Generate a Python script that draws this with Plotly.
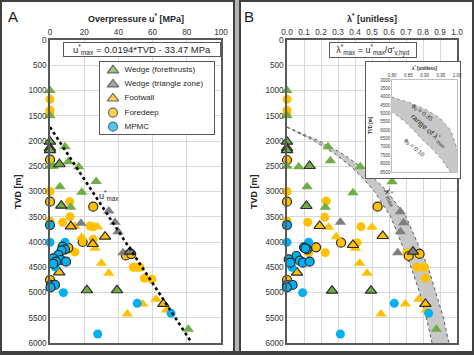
import plotly.graph_objects as go

W, H = 474, 355
def px(x): return x / W
def py(y): return 1 - y / H

FONT = "Arial, Liberation Sans, sans-serif"

# ---------------- DATA ----------------
# Panel A : overpressure u* [MPa] vs TVD [m]   (_o = points drawn with dark outline)
A_fore_u     = [0, 0, 8.8, 0, 2.0, 10.7, 16.8, 27.0, 5.8, 18.6, 12.1, 80.9]
A_fore_tvd   = [1000, 1500, 2112, 2500, 2500, 2410, 2510, 2800, 2904, 3015, 3310, 5729]
A_fore_o_u   = [0, 0, 0, 5.5, 6.6, 21.6, 39.2]
A_fore_o_tvd = [2013, 2140, 2180, 2460, 3280, 4955, 4955]
A_tz_u       = [34.4, 38.0, 18.1, 39.8, 42.7]
A_tz_tvd     = [3385, 3610, 3630, 3795, 4215]
A_tz_o_u     = [46.8]
A_tz_o_tvd   = [4191]
A_foot_u     = [14.6, 27.8, 18.5, 26.3, 30.0, 34.4, 54.2, 62.0, 68.2, 45.2]
A_foot_tvd   = [3690, 3705, 3905, 4125, 4422, 4620, 5227, 5135, 5346, 5425]
A_foot_o_u   = [12.2, 32.2, 25.0, 5.4, 66.3]
A_foot_o_tvd = [3690, 3895, 4040, 4600, 5227]
A_fd_u       = [0, 0, 0, 0, 11.5, 11.7, 0, 7.4, 23.4, 25.3, 25.3, 9.8, 14.6, 48.7, 50.7, 52.6, 55.2, 59.5]
A_fd_tvd     = [1175, 1390, 1450, 3000, 3201, 3498, 3590, 3610, 3683, 3700, 3947, 4158, 4200, 4501, 4501, 4501, 4718, 4738]
A_fd_o_u     = [0, 0, 25.3, 19.1, 10.7, 44.4, 47.5, 0]
A_fd_o_tvd   = [2370, 3201, 3300, 4000, 4115, 4265, 4240, 4752]
A_mp_u       = [0, 8.8, 2.9, 7.8, 51.0, 70.8, 27.9]
A_mp_tvd     = [4005, 4005, 4490, 5003, 5214, 5412, 5822]
A_mp_o_u     = [0, 7.4, 8.8, 6.8, 4.9, 1.9, 6.4, 9.4, 3.5, 1.9, 0.5, 2.9, 0.3]
A_mp_o_tvd   = [3665, 4093, 4145, 4165, 4257, 4323, 4356, 4389, 4389, 4430, 4850, 4850, 4897]
# u*max line (two end points)
umax_u   = [0, 82.5]
umax_tvd = [1725, 5975]

# Panel B : lambda* [unitless] vs TVD [m]
B_fore_l     = [0, 0, 0.241, 0, 0.069, 0.255, 0.431, 0.618, 0.118, 0.388, 0.225, 0.878]
B_fore_tvd   = [1000, 1500, 2112, 2500, 2508, 2390, 2508, 2805, 2904, 3023, 3313, 5729]
B_fore_o_l   = [0, 0, 0, 0.133, 0.114, 0.265, 0.494]
B_fore_o_tvd = [2013, 2140, 2180, 2495, 3287, 4963, 4963]
B_tz_l       = [0.667, 0.686, 0.314, 0.667, 0.651]
B_tz_tvd     = [3400, 3617, 3610, 3795, 4211]
B_tz_o_l     = [0.741]
B_tz_o_tvd   = [4191]
B_foot_l     = [0.245, 0.50, 0.29, 0.402, 0.427, 0.471, 0.696, 0.775, 0.82, 0.553]
B_foot_tvd   = [3709, 3709, 3894, 4125, 4422, 4620, 5227, 5135, 5346, 5425]
B_foot_o_l   = [0.192, 0.563, 0.388, 0.059, 0.814]
B_foot_o_tvd = [3683, 3881, 4059, 4607, 5227]
B_fd_l       = [0, 0, 0, 0, 0.231, 0.222, 0, 0.122, 0.435, 0.412, 0.127, 0.225, 0.706, 0.765, 0.808, 0.814]
B_fd_tvd     = [1175, 1390, 1450, 3000, 3188, 3511, 3590, 3610, 3696, 4013, 4211, 4211, 4211, 4501, 4501, 4718]
B_fd_o_l     = [0, 0, 0.533, 0.318, 0.171, 0.716, 0.78, 0]
B_fd_o_tvd   = [2376, 3201, 3300, 4013, 4105, 4277, 4237, 4752]
B_mp_l       = [0, 0.127, 0.029, 0.092, 0.631, 0.833, 0.314]
B_mp_tvd     = [4005, 4005, 4501, 5003, 5214, 5412, 5822]
B_mp_o_l     = [0, 0.10, 0.118, 0.108, 0.055, 0.01, 0.075, 0.02, 0.094, 0.133, 0, 0.033, 0]
B_mp_o_tvd   = [3665, 4105, 4145, 4125, 4277, 4343, 4369, 4409, 4409, 4389, 4851, 4851, 4897]

# range of lambda*max (grey band) in panel B
band_tvd = [1725, 1800, 2000, 2250, 2500, 2750, 3000, 3500, 4000, 4500, 5000, 5500, 6000]
band_lo  = [0, 0.045, 0.16, 0.28, 0.375, 0.45, 0.515, 0.61, 0.67, 0.73, 0.78, 0.82, 0.853]
band_hi  = [0, 0.055, 0.19, 0.325, 0.43, 0.515, 0.59, 0.70, 0.765, 0.83, 0.875, 0.92, 0.953]

# inset: deeper continuation of the band
inset_hi_tvd = [3900, 4030, 4357, 4793, 5290, 5990, 6784, 7200, 8000, 8800]
inset_hi_l   = [0.78, 0.80, 0.855, 0.907, 0.948, 0.98, 0.995, 1.0, 1.02, 1.04]
inset_lo_tvd = [4700, 4900, 5500, 6000, 6500, 7200, 7800, 8500, 8800]
inset_lo_l   = [0.78, 0.80, 0.84, 0.867, 0.89, 0.928, 0.955, 0.98, 0.99]

legend_labels = ["Wedge (forethrusts)", "Wedge (triangle zone)", "Footwall", "Foredeep", "MPMC"]

# ---------------- STYLE ----------------
GREEN, GRAY, YELLOW, BLUE = "#70ad47", "#7f7f7f", "#ffc000", "#00b0f0"
EDGE = "#2b2b2b"
TRI, CIR = "triangle-up", "circle"

fig = go.Figure()

def pts(x, y, symbol, color, outlined, xa, ya):
    fig.add_trace(go.Scatter(
        x=x, y=y, mode="markers", xaxis=xa, yaxis=ya, showlegend=False,
        cliponaxis=False, hoverinfo="skip",
        marker=dict(symbol=symbol, size=9 if symbol == CIR else 10, color=color,
                    line=dict(color=EDGE if outlined else color, width=1.2 if outlined else 0))))

# panel B band (under points)
fig.add_trace(go.Scatter(x=band_lo + band_hi[::-1], y=band_tvd + band_tvd[::-1],
                         mode="lines", fill="toself", fillcolor="#c8c8c8",
                         line=dict(width=0), xaxis="x2", yaxis="y2", showlegend=False, hoverinfo="skip"))
for edge in (band_lo, band_hi):
    fig.add_trace(go.Scatter(x=edge, y=band_tvd, mode="lines", xaxis="x2", yaxis="y2",
                             line=dict(color="#595959", width=1, dash="dot"),
                             showlegend=False, hoverinfo="skip"))

for xa, ya, groups in [
    ("x", "y", [(A_fd_u, A_fd_tvd, CIR, YELLOW, False), (A_fd_o_u, A_fd_o_tvd, CIR, YELLOW, True),
                (A_foot_u, A_foot_tvd, TRI, YELLOW, False), (A_foot_o_u, A_foot_o_tvd, TRI, YELLOW, True),
                (A_fore_u, A_fore_tvd, TRI, GREEN, False), (A_fore_o_u, A_fore_o_tvd, TRI, GREEN, True),
                (A_tz_u, A_tz_tvd, TRI, GRAY, False), (A_tz_o_u, A_tz_o_tvd, TRI, GRAY, True),
                (A_mp_u, A_mp_tvd, CIR, BLUE, False), (A_mp_o_u, A_mp_o_tvd, CIR, BLUE, True)]),
    ("x2", "y2", [(B_fd_l, B_fd_tvd, CIR, YELLOW, False), (B_fd_o_l, B_fd_o_tvd, CIR, YELLOW, True),
                  (B_foot_l, B_foot_tvd, TRI, YELLOW, False), (B_foot_o_l, B_foot_o_tvd, TRI, YELLOW, True),
                  (B_fore_l, B_fore_tvd, TRI, GREEN, False), (B_fore_o_l, B_fore_o_tvd, TRI, GREEN, True),
                  (B_tz_l, B_tz_tvd, TRI, GRAY, False), (B_tz_o_l, B_tz_o_tvd, TRI, GRAY, True),
                  (B_mp_l, B_mp_tvd, CIR, BLUE, False), (B_mp_o_l, B_mp_o_tvd, CIR, BLUE, True)]),
]:
    for gx, gy, sym, col, outl in groups:
        pts(gx, gy, sym, col, outl, xa, ya)

# u*max dotted line
fig.add_trace(go.Scatter(x=umax_u, y=umax_tvd, mode="lines", xaxis="x", yaxis="y",
                         line=dict(color="black", width=2.6, dash="dot"),
                         showlegend=False, hoverinfo="skip"))

# inset box (x3/y3) and inset plot (x4/y4)
fig.add_trace(go.Scatter(x=[], y=[], xaxis="x3", yaxis="y3", showlegend=False))
fig.add_trace(go.Scatter(x=inset_hi_l + inset_lo_l[::-1], y=inset_hi_tvd + inset_lo_tvd[::-1],
                         mode="lines", fill="toself", fillcolor="#c8c8c8", line=dict(width=0),
                         xaxis="x4", yaxis="y4", showlegend=False, hoverinfo="skip"))
for ex, ey in ((inset_hi_l, inset_hi_tvd), (inset_lo_l, inset_lo_tvd)):
    fig.add_trace(go.Scatter(x=ex, y=ey, mode="lines", xaxis="x4", yaxis="y4",
                             line=dict(color="#7f7f7f", width=0.8, dash="dot"),
                             showlegend=False, hoverinfo="skip"))

# legend box (x5/y5)
idx = list(range(len(legend_labels)))
fig.add_trace(go.Scatter(
    x=[0.114] * len(idx), y=idx, mode="markers", xaxis="x5", yaxis="y5", showlegend=False,
    hoverinfo="skip", cliponaxis=False,
    marker=dict(symbol=[TRI, TRI, TRI, CIR, CIR], size=[10, 10, 10, 9, 9],
                color=[GREEN, GRAY, YELLOW, YELLOW, BLUE], line=dict(color=EDGE, width=1.2))))
fig.add_trace(go.Scatter(
    x=[0.215] * len(idx), y=idx, mode="text", text=legend_labels, textposition="middle right",
    textfont=dict(family=FONT, size=8, color="#262626"), xaxis="x5", yaxis="y5",
    showlegend=False, hoverinfo="skip", cliponaxis=False))

ax = dict(showgrid=True, gridcolor="#d9d9d9", gridwidth=1, zeroline=False, showline=True,
          mirror=True, linecolor="#595959", linewidth=1.5, ticks="", automargin=False,
          tickfont=dict(family=FONT, size=8.2, color="#333333"))
plain = dict(showgrid=False, zeroline=False, showticklabels=False, showline=True, mirror=True,
             linecolor="#595959", linewidth=1.2, ticks="", fixedrange=True, automargin=False)
ins = dict(showgrid=False, zeroline=False, showline=True, mirror=True, linecolor="#bfbfbf",
           linewidth=0.8, ticks="", automargin=False,
           tickfont=dict(family=FONT, size=4.5, color="#404040"))

fig.update_layout(
    width=W, height=H, margin=dict(l=0, r=0, t=0, b=0, pad=0), autosize=False,
    paper_bgcolor="#b3b3b3", plot_bgcolor="white",
    font=dict(family=FONT, color="#262626"),
    xaxis=dict(domain=[px(50), px(221)], range=[0, 100], dtick=20, side="top", anchor="y", **ax),
    yaxis=dict(domain=[py(343), py(40)], range=[6000, 0], dtick=500, anchor="x", **ax),
    xaxis2=dict(domain=[px(287), px(457)], range=[0, 1], dtick=0.1, tickformat=".1f",
                side="top", anchor="y2", **ax),
    yaxis2=dict(domain=[py(343), py(40)], range=[6000, 0], dtick=500, anchor="x2", **ax),
    xaxis3=dict(domain=[px(366), px(460)], range=[0, 1], anchor="y3", **plain),
    yaxis3=dict(domain=[py(178), py(62)], range=[0, 1], anchor="x3", **plain),
    xaxis4=dict(domain=[px(392), px(457)], range=[0.80, 1.00], dtick=0.05, tickformat=".2f",
                side="top", anchor="y4", **ins),
    yaxis4=dict(domain=[py(172), py(80)], range=[8500, 3000], dtick=500, anchor="x4", **ins),
    xaxis5=dict(domain=[px(100), px(214)], range=[0, 1], anchor="y5", **plain),
    yaxis5=dict(domain=[py(134), py(62)], range=[4.52, -0.59], anchor="x5", **plain),
    showlegend=False,
)

shapes = [
    dict(type="rect", xref="paper", yref="paper", x0=px(1), x1=px(234), y0=py(352), y1=py(1),
         fillcolor="white", line=dict(color="#404040", width=2), layer="below"),
    dict(type="rect", xref="paper", yref="paper", x0=px(240), x1=px(473), y0=py(352), y1=py(1),
         fillcolor="white", line=dict(color="#404040", width=2), layer="below"),
    dict(type="rect", xref="paper", yref="paper", x0=0, x1=1, y0=0, y1=py(351),
         fillcolor="#404040", line=dict(width=0), layer="below"),
]
fig.update_layout(shapes=shapes)

def ann(x, y, text, size, angle=0, bold=False, **kw):
    fig.add_annotation(x=px(x), y=py(y), xref="paper", yref="paper", showarrow=False,
                       xanchor="center", yanchor="middle",
                       text=f"<b>{text}</b>" if bold else text, textangle=angle,
                       font=dict(family=FONT, size=size, color=kw.pop("color", "#262626")), **kw)

ann(13, 16, "A", 15, color="#1a1a1a")
ann(249, 16, "B", 15, color="#1a1a1a")
ann(135.5, 17.5, "Overpressure u<sup>*</sup> [MPa]", 9, bold=True)
ann(372, 17.5, "λ<sup>*</sup> [unitless]", 9, bold=True)
ann(18, 192, "TVD [m]", 9, angle=-90, bold=True)
ann(254, 192, "TVD [m]", 9, angle=-90, bold=True)
ann(141.5, 49.5, "u<sup>*</sup><sub>max</sub> = 0.0194*TVD - 33.47 MPa", 9.5,
    bgcolor="white", bordercolor="#595959", borderwidth=1, borderpad=0, width=156, height=13)
ann(373, 50, "λ<sup>*</sup><sub>max</sub> = u<sup>*</sup><sub>max</sub>/σ'<sub>v,hyd</sub>", 9,
    bgcolor="white", bordercolor="#595959", borderwidth=1, borderpad=0, width=86, height=14)
ann(109, 195, "u<sup>*</sup><sub>max</sub>", 9)
ann(391, 197, "λ<sup>*</sup><sub>max</sub>", 8.5, angle=62)
ann(425, 68, "λ<sup>*</sup> [unitless]", 4.5, bold=True)
ann(371, 125, "TVD [m]", 4.5, angle=-90, bold=True)
ann(422, 112, "φ<sub>0</sub> = 0.35", 6, angle=38)
ann(429, 131, "range of λ<sup>*</sup><sub>max</sub>", 7.5, angle=42)
ann(414, 147, "φ<sub>0</sub> = 0.10", 6, angle=42)

fig.write_html("out.html", config={"displayModeBar": False},
               post_script="document.body.style.margin='0';document.body.style.overflow='hidden';")
